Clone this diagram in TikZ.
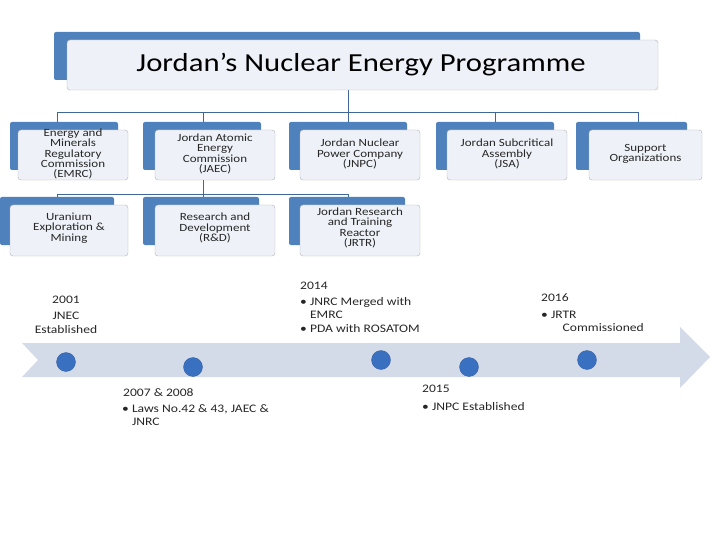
\documentclass[tikz,border=0pt]{standalone}
\usepackage{fontspec}
\setmainfont{Carlito}[FakeStretch=1.18]
\begin{document}
\begin{tikzpicture}[x=1pt,y=-1pt,
  back/.style={fill=blueB,draw=none,rounded corners=2pt},
  front/.style={fill=paleF,draw=gray!60,rounded corners=3pt},
  lbl/.style={align=center,font=\fontsize{11}{10.2}\selectfont,text=black!85},
  conn/.style={draw=blueB!80!black,line width=0.8pt},
  dot/.style={circle,minimum size=19pt,inner sep=0pt,fill=dotB,draw=dotB!80!black,line width=0.3pt},
  tl/.style={align=left,font=\fontsize{11.5}{13}\selectfont,text=black!85,anchor=north west,inner sep=0pt}]
\definecolor{blueB}{HTML}{4F81BD}
\definecolor{dotB}{HTML}{3A70C0}
\definecolor{paleF}{HTML}{EEF2F8}
\definecolor{band}{HTML}{D3DAE8}
\useasboundingbox (0,0) rectangle (720,540);
% connectors first
\coordinate (tb) at (348,90);
\coordinate (hb) at (348,112);
\draw[conn] (tb) -- (hb);
\draw[conn] (57,112) -- (638,112);
\foreach \x in {57,203,348,495,638}{\draw[conn] (\x,112) -- (\x,124);}
\draw[conn] (203,180) -- (203,194);
\draw[conn] (57,194) -- (348,194);
\foreach \x in {57,203,348}{\draw[conn] (\x,194) -- (\x,199);}
% title
\fill[back] (54,32) rectangle (640,80);
\draw[front] (67,40) rectangle (658,90);
\node[font=\fontsize{26}{28}\selectfont] (title) at (361,65) {Jordan’s Nuclear Energy Programme};
% row 1
\foreach \n/\bx/\fx/\fw/\t in {
  emrc/10/18/110/{Energy and\\Minerals\\Regulatory\\Commission\\(EMRC)},
  jaec/143/155/120/{Jordan Atomic\\Energy\\Commission\\(JAEC)},
  jnpc/289/300/120/{Jordan Nuclear\\Power Company\\(JNPC)},
  jsa/436/447/120/{Jordan Subcritical\\Assembly\\(JSA)},
  sup/576/589/113/{Support\\Organizations}}{
  \fill[back] (\bx,122) rectangle ++(\fw-2,48);
  \draw[front] (\fx,130) rectangle ++(\fw,50);
  \node[lbl] (\n) at (\fx+\fw/2,154) {\t};
}
% row 2
\foreach \n/\bx/\fx/\fw/\t in {
  ura/0/10/118/{Uranium\\Exploration \&\\Mining},
  rd/143/155/120/{Research and\\Development\\(R\&D)},
  jrtr/289/300/120/{Jordan Research\\and Training\\Reactor\\(JRTR)}}{
  \fill[back] (\bx,197) rectangle ++(\fw-4,48);
  \draw[front] (\fx,205) rectangle ++(\fw,51);
  \node[lbl] (\n) at (\fx+\fw/2,228) {\t};
}
% timeline
\fill[band] (22,343) -- (680,343) -- (680,327) -- (710,357) -- (680,388) -- (680,377) -- (22,377) -- (38,360) -- cycle;
\node[dot] (d1) at (66,362) {};
\node[dot] (d2) at (193,367) {};
\node[dot] (d3) at (381,360) {};
\node[dot] (d4) at (469,367) {};
\node[dot] (d5) at (587,360) {};
\node[font=\fontsize{11.5}{13}\selectfont,text=black!85] (y1) at (66,300) {2001};
\node[align=center,font=\fontsize{11.5}{13.5}\selectfont,text=black!85] (e1) at (66,323) {JNEC\\Established};
\node[tl] (y3) at (300,282) {2014};
\node[tl] (e3) at (300,297) {\textbullet\ JNRC Merged with\\\hphantom{\textbullet\ }EMRC\\[1pt]\textbullet\ PDA with ROSATOM};
\node[tl] (y5) at (541,294) {2016};
\node[tl] (e5) at (541,311) {\textbullet\ JRTR\\\hphantom{\textbullet\ JR}Commissioned};
\node[tl] (y2) at (123,388) {2007 \& 2008};
\node[tl] (e2) at (122,404) {\textbullet\ Laws No.42 \& 43, JAEC \&\\\hphantom{\textbullet\ }JNRC};
\node[tl] (y4) at (422,385) {2015};
\node[tl] (e4) at (422,402) {\textbullet\ JNPC Established};
\end{tikzpicture}
\end{document}
